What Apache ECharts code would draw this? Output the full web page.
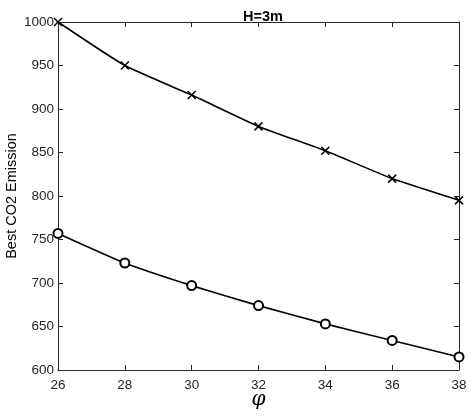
<!DOCTYPE html>
<html><head><meta charset="utf-8">
<script src="https://cdn.jsdelivr.net/npm/echarts@6/dist/echarts.min.js"></script>
<style>html,body{margin:0;padding:0;background:#fff}#c{width:474px;height:417px}</style>
</head><body><div id="c"></div>
<script>
var phi = [26, 28, 30, 32, 34, 36, 38];
var upperSeries = [1000, 950, 916, 880, 852, 820, 795];
var lowerSeries = [757, 723, 697, 674, 653, 634, 615];
var titleText = 'H=3m';
var yName = 'Best CO2 Emission';
var xName = 'φ';

function pairs(xs, ys){ return xs.map(function(x,i){return [x, ys[i]];}); }
var font = 'Liberation Sans, Arial, sans-serif';
var axisCol = '#262626';
var chart = echarts.init(document.getElementById('c'));
var crossPath = 'path://M0,0L10,10M10,0L0,10';
chart.setOption({
  animation: false,
  backgroundColor: '#fff',
  title: {text: titleText, left: 238, top: 4, textStyle: {fontFamily: font, fontSize: 14.5, fontWeight: 'bold', color: '#000'}},
  grid: {left: 58, right: 15, top: 22, bottom: 47, containLabel: false, outerBoundsMode: 'none'},
  xAxis: [{
    type: 'value', min: 26, max: 38, interval: 2,
    name: xName, nameLocation: 'middle', nameGap: 30, nameMoveOverlap: false,
    nameTextStyle: {fontFamily: 'DejaVu Serif, serif', fontStyle: 'italic', fontSize: 20, color: '#000', verticalAlign: 'middle'},
    axisLine: {show: true, onZero: false, lineStyle: {color: axisCol, width: 1}},
    axisTick: {show: true, inside: true, length: 5, lineStyle: {color: axisCol}},
    axisLabel: {fontFamily: font, fontSize: 13.5, color: '#262626', margin: 8, formatter: function(v){return String(v);}},
    splitLine: {show: false}
  }, {
    type: 'value', min: 26, max: 38, interval: 2, position: 'top',
    axisLine: {show: true, onZero: false, lineStyle: {color: axisCol, width: 1}},
    axisTick: {show: true, inside: true, length: 5, lineStyle: {color: axisCol}},
    axisLabel: {show: false}, splitLine: {show: false}
  }],
  yAxis: [{
    type: 'value', min: 600, max: 1000, interval: 50,
    name: yName, nameLocation: 'middle', nameGap: 46, nameRotate: 90, nameMoveOverlap: false,
    nameTextStyle: {fontFamily: font, fontSize: 14.5, color: '#000', verticalAlign: 'middle'},
    axisLine: {show: true, onZero: false, lineStyle: {color: axisCol, width: 1}},
    axisTick: {show: true, inside: true, length: 5, lineStyle: {color: axisCol}},
    axisLabel: {fontFamily: font, fontSize: 13.5, color: '#262626', margin: 4, formatter: function(v){return String(v);}},
    splitLine: {show: false}
  }, {
    type: 'value', min: 600, max: 1000, interval: 50, position: 'right',
    axisLine: {show: true, onZero: false, lineStyle: {color: axisCol, width: 1}},
    axisTick: {show: true, inside: true, length: 5, lineStyle: {color: axisCol}},
    axisLabel: {show: false}, splitLine: {show: false}
  }],
  series: [{
    type: 'line', data: pairs(phi, upperSeries), smooth: 0.15,
    symbol: crossPath, symbolSize: 8,
    lineStyle: {color: '#000', width: 1.6},
    itemStyle: {color: '#000', borderColor: '#000', borderWidth: 1.5}
  }, {
    type: 'line', data: pairs(phi, lowerSeries), smooth: 0.15,
    symbol: 'emptyCircle', symbolSize: 9,
    lineStyle: {color: '#000', width: 1.6},
    itemStyle: {color: '#000', borderColor: '#000', borderWidth: 1.5}
  }]
});
</script></body></html>
